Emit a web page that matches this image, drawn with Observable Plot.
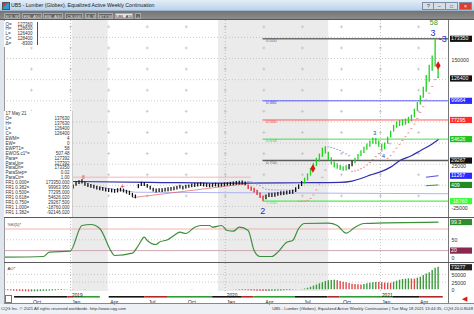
<!DOCTYPE html>
<html><head><meta charset="utf-8">
<script src="https://cdn.jsdelivr.net/npm/d3@7"></script>
<script src="https://cdn.jsdelivr.net/npm/@observablehq/plot@0.6"></script>
<style>
html,body{margin:0;padding:0}
body{width:474px;height:314px;overflow:hidden;position:relative;background:#fff;font-family:"Liberation Sans",Arial,sans-serif}
svg{display:block}
</style></head><body>
<script>
// ---------------- DATA ----------------
// week index 0 = Mon 30 Jul 2018 (weekly bars)
const weekZero = "2018-07-30";
const barStartWeek = 23;
const barLow = [-4.5,-1,1,1.5,-1,-2.5,-3.5,-4.5,-5.5,-6.5,
  -7,-8,-8.5,-9,-9.5,-9,-8,-9,-10.5,-12,
  -14.5,-16,-4,-1.5,-1.5,-3.5,-5.5,-8,-9,-8.5,
  -8.5,-8,-7.5,-7,-6.5,-5.5,-4.5,-5.5,-4.5,-3.5,
  -3,-2.5,-2,-1.5,-2,-2.5,-3,-2.5,-2,-2.5,
  -2,-1.5,-1,-0.8,-0.5,0,0.3,0.5,-0.5,-5,
  -7,-9,-12,-15.5,-18.76,-17,-14.5,-14.5,-14,-13,
  -12.5,-12,-11.5,-11,-10.5,-8.5,-5,-1.5,1.5,5,
  11,16.5,22,27.5,33,37,29,24,20.5,19,
  17.5,16.5,17,18.5,22,25.5,29.5,34,37.5,41.5,
  45,48.5,48,45,41,42,49,56,63,67.5,
  69.5,70,71,73,75,80,87.5,95,103,110,
  122,135,140,126.4];
const barHigh = [0.5,4,5.5,6.5,4,2,1,0,-1,-2,
  -2.5,-3.5,-4,-4.5,-5,-4,-3.5,-4.5,-6,-7,
  -9.5,-11.5,1,3.5,3,1,-1,-3.5,-4.5,-4,
  -4,-3.5,-3,-2.5,-2,-1,0,-1,0,0.5,
  1.5,2,2.5,3,2.5,2,1.5,2,2.5,2,
  2.2,2.8,3,3.5,4,4.5,4.8,5,4,0.5,
  -2,-3.5,-6,-9,-13,-11.5,-9.5,-9.5,-9,-8.5,
  -7.5,-7.5,-7,-6.5,-6,-3,0.5,4.5,8.5,13.5,
  20,26,32,37,44,45.5,39,32.5,27.5,25.5,
  23.5,22,23,24.5,28.5,32,36.5,41,45,49,
  52.5,56,55.5,52.5,48.5,50,57,64,71,75,
  76.5,77.5,78.5,80.5,83,90,98,106,116,130,
  142,153,173.35,137.63];
const barSignalRuns = [["k",59],["r",6],["k",13],["g",15],["k",2],["g",29]];

const fibRatios = ["0.000","0.382","0.500","0.618","0.750","1.000"];
const fibValues = [173.35, 99.964, 77.295, 54.626, 29.2675, -18.76];
const fibStartWeek = 87;

const maPoints = [[23,4.5],[49,3.5],[79,2.5],[100,3],[113,3.5],[117,5],[120,8],[123,12],[127,16.5],[130,21.5],[133,29],[137,35],[140,41],[144,49],[146,54]];
const lavenderPoints = [[32,-2.2],[44,-8.2],[149.5,-10]];
const redTrendPoints = [[43,-14.6],[82,2.1]];
const pinkLevel = {from: 23, to: 83, value: 9.6};
const blueEndPoints = [[142,9.6],[146,11.3]];
const greenEndPoints = [[142,-0.5],[146,0.4]];

const sarStarts = [82, 99, 109, 117, 129];
const sarSides = ["up","dn","up","dn","dn"];
const sarValues = [
  [4.5,4,3,1.5,-0.5,-3,-4.5,-5.2,-5.4,-5.5,-5.6,-5.6,-5.7,-5.7,-5.8,-5.8,-5.8],
  [-18.8,-18.8,-18.5,-17.8,-15.5,-11.5,-5.5,1.5,9.5,18],
  [45.5,44.8,43.8,42.5,41,39.2,37.2,35],
  [16.5,17,18,19.5,21.5,24,27,30.5,34,37.5,40.5],
  [32,35,39.5,44,48.5,53,57.5,62,67,72.5,79,86,93,101,109,117,125,127.4]
];

const waveTexts  = ["2","3","4","→","58","3","-3","8","+"];
const waveWeeks  = [86.9,124.6,127.6,129.5,144.5,144.3,147.6,26.5,39.7];
const waveValues = [-31,61.3,34,50.5,192,180,173,9.2,-1.4];
const diamondWeeks = [103.8, 146];
const diamondValues = [19.8, 141.8];

const mainAxisValues = [173.35,150,126.4,99.964,77.295,54.626,29.2675,25,11.267,0.409,-18.76,-25];
const mainAxisTexts  = ["173350","150000","126400","99964","77295","54626","29267","25000","11267","409","-18760","-25000"];
const gridLevels = [-25,0,25,50,75,100,125,150,175];
const gridMidLevels = [-12.5,12.5,37.5,62.5,87.5,112.5,137.5,162.5,187.5];

const oscPoints = [[0,1.7],[13,3.6],[15,15.6],[22,18.3],[26,89.7],[29,92.5],[32,81.4],[36,15.6],[37,6.4],[43,12.8],[45,34.2],[47,57.2],[48,48.1],[51,36.9],[52,43.3],[55,50.8],[57,61.9],[59,71.1],[61,67.5],[64,85],[66,89.7],[69,89.7],[70,85],[73,89.7],[75,75.8],[77,73.9],[79,85],[82,75.8],[84,20.3],[86,3.6],[90,3.6],[92,15.6],[95,43.3],[97,48.1],[99,81.4],[101,95.3],[109,96.1],[112,89.7],[115,68.3],[118,85],[121,95.3],[146,99.3]];
const oscAxisValues = [99.3,50,20,0];
const oscAxisTexts = ["99.3","50","20","0"];

const aoValues = [-2,-3,-4,-4.5,-5,-5.5,-6,-6.5,-7,
  -6.8,-6.5,-6.2,-5.8,-5.3,-4.8,-4.3,-3.8,-3.2,-2.6,-2,-1.5,-1,
  -0.6,-0.3,0,0.3,0.5,0.6,0.5,0.4,0.3,0.2,
  0.1,-0.1,-0.2,-0.3,-0.2,0.1,0.3,0.4,0.3,0.2,0.1,-0.1,-0.2,-0.1,0.1,0.2,0.3,0.4,0.4,0.3,0.2,0.3,0.4,0.5,0.5,0.4,0.3,0.2,0.3,0.4,0.5,0.6,0.5,0.4,0.3,0.2,0.1,0,-0.1,-0.2,-0.3,-0.2,-0.1,-0.2,-0.3,
  -0.5,-1,-1.5,-2,-2.5,-3,-3.5,-4,-4.5,-5,-5.4,-5.6,
  -5.2,-5,-4.6,-4.2,-3.8,-3.2,-2.6,-2,-1.4,-0.8,-0.2,0.8,
  2.5,5,8.4,12,15.5,19.5,23,27,29,30.2,31,
  29.5,27,24.7,22.7,20.5,18.2,17,16.2,16,
  17.5,19.5,21.5,22.7,24,
  23.5,22.7,22,21.5,21,
  24.7,28,31.2,33.4,34.4,35.7,
  35,34.5,
  37.7,41,46.4,51,55.2,62.7,70.1,73.3];
const aoAxisValues = [73.277,50,25,0];
const aoAxisTexts = ["73277","50000","25000","0"];

const quarterDates = ["2018-10-01","2019-01-01","2019-04-01","2019-07-01","2019-10-01","2020-01-01","2020-04-01","2020-07-01","2020-10-01","2021-01-01","2021-04-01"];
const quarterLabels = ["Oct","Jan","Apr","Jul","Oct","Jan","Apr","Jul","Oct","Jan","Apr"];
const yearDates = ["2019-01-01","2020-01-01","2021-01-01"];
const yearLabels = ["2019","2020","2021"];
const shadeBands = [["2019-01-05","2019-03-31"],["2019-12-16","2020-09-01"]];
const stripWeeks = [[3,21],[21,23],[23,32],[35,47],[47,55],[55,70],[70,80],[80,84],[84,98],[98,109],[109,113],[113,131],[131,140],[140,148]];
const stripKinds = ["k","r","g","k","r","g","k","r","g","k","r","g","k","r"];

const infoRows = [["17 May 21",""],["O=","137630"],["H=","137630"],["L=","126400"],["C=","126400"],["EWM=","4"],["EW=","0"],["EWPT1=","58"],["EWOS.c1*=","507.48"],["Para=","127392"],["ParaUp=","127392"],["ParaDn=","173350"],["ParaStep=","0.02"],["ParaCtr=","1.00"],["FR1 0.000=","173350.000"],["FR1 0.382=","99963.950"],["FR1 0.500=","77295.000"],["FR1 0.618=","54626.020"],["FR1 0.750=","29267.500"],["FR1 1.000=","-18760.000"],["FR1 1.382=","-92146.020"]];
const quoteRows = [["O=","127360"],["H=","128600"],["L=","126400"],["C=","128400"],["Δ=","-8300"]];
const tabNames = ["SOL.W","ENL.A50","ENL.A30","CS.000","UL.W","STY.W","UBL.A50","+"];
const titleText = "UB5 - Lumber (Globex), Equalized Active Weekly Continuation";
const footerLeft = "CQG Inc. © 2021 All rights reserved worldwide. http://www.cqg.com";
const footerRight = "UB5 - Lumber (Globex), Equalized Active Weekly Continuation | Tue May 18 2021 13:44:35, CQG 20.0.8048";

// ---------------- STYLES ----------------
const FONT = "Liberation Sans, Arial, sans-serif";
const signalColor = {k:"#111111", r:"#e02020", g:"#1ed21e"};
const stripColor = {k:"#151515", r:"#b02828", g:"#2f9a2f"};
const fibColors = ["#707070","#3535ff","#ff3535","#3ad43a","#5c5c5c","#4cf04c"];
const fibWidths = [1.6,0.8,0.8,0.9,1.6,1.2];
const waveColors = ["#2a2acc","#3a3acc","#3a3acc","#2a2acc","#3c9c3c","#2a2ad0","#2a2ad0","#e04a4a","#e02020"];
const waveSizes = [9,6,6,6,7.5,9,9,5,7];
const sarColors = {up:"#9a9ad8", dn:"#f08080"};
const mainAxisBg = ["#111","", "#111","#2b2bff","#ff2b2b","#1cc41c","#111","","#2b2bff","#1e8c1e","#33ff33",""];
const oscAxisBg = ["#2e8b2e","","#8b2850",""];
const aoAxisBg = ["#222","","",""];

// ---------------- HELPERS ----------------
const DAY = 864e5;
const W0 = Date.parse(weekZero);
const wk = w => new Date(W0 + w * 7 * DAY);
const X_DOMAIN = [wk(-0.1), wk(149.5)];
const xScale = {type: "utc", domain: X_DOMAIN, axis: null};
const boxSymbol = {draw(ctx) { ctx.rect(-11, -3.1, 22, 6.2); }};
const dashSymbol = {draw(ctx) { ctx.rect(-1, -0.45, 2, 0.9); }};

function el(tag, css, html, parent) {
  const e = document.createElement(tag);
  e.style.cssText = css;
  if (html != null) e.innerHTML = html;
  (parent || document.body).appendChild(e);
  return e;
}
function place(svg, left, top, z) {
  const d = el("div", `position:absolute;left:${left}px;top:${top}px;z-index:${z||1}`);
  d.appendChild(svg);
}
function axisMarks(values, texts, bgs, fs, plainDy) {
  const rows = values.map((v, i) => ({v, t: texts[i], bg: bgs[i]}));
  const plain = rows.filter(d => !d.bg), boxed = rows.filter(d => d.bg);
  return [
    Plot.text(plain, {y: "v", text: "t", frameAnchor: "right", dx: 3, dy: plainDy, textAnchor: "start", fill: "#333", fontSize: fs}),
    Plot.dot(boxed, {y: "v", frameAnchor: "right", dx: 12.5, symbol: boxSymbol, r: 3, fill: "bg"}),
    Plot.text(boxed, {y: "v", text: "t", frameAnchor: "right", dx: 2.5, textAnchor: "start", fill: "#ffffff", fontSize: fs})
  ];
}
const shadeMark = () => Plot.rect(shadeBands, {x1: d => new Date(d[0]), x2: d => new Date(d[1]), fill: "#ebebeb"});
const janMark = () => Plot.ruleX(yearDates.map(d => new Date(d)), {stroke: "#aaaaaa", strokeWidth: 0.7, strokeDasharray: "1,2"});
const baseOpts = (h, domain) => ({
  width: 470, height: h, margin: 0, marginRight: 26,
  x: xScale, y: {domain, axis: null}, color: {type: "identity"},
  style: {background: "transparent", overflow: "visible", fontFamily: FONT}
});

// ---------------- FRAME / CHROME ----------------
el("div", "position:absolute;left:0;top:0;width:474px;height:11px;background:linear-gradient(#e3edf8,#bcd2ea);border-bottom:1px solid #9fb6cf;box-sizing:border-box");
el("div", "position:absolute;left:2px;top:2px;width:6px;height:6px;background:linear-gradient(135deg,#d33 0,#d33 40%,#39c 40%);border:0.5px solid #555");
el("div", `position:absolute;left:11px;top:0;height:10px;line-height:10px;font-size:5.2px;color:#1a1a1a;white-space:nowrap`, titleText);
[[422,"#d8dde4","?"],[433,"#d8dde4","–"],[445,"#d8dde4","□"],[459,"#d84030","×"]].forEach(([x,c,t]) =>
  el("div", `position:absolute;left:${x}px;top:2px;width:11px;height:6px;background:${c};border:0.5px solid #7a8ea6;font-size:5px;line-height:6px;text-align:center;color:${c==="#d84030"?"#fff":"#333"}`, t));
el("div", "position:absolute;left:0;top:11px;width:474px;height:9px;background:linear-gradient(#747474,#8c8c8c);border-bottom:1px solid #555;box-sizing:border-box");
const tabX = [[4,20],[22,42],[43,63],[65,83],[85,96],[98,113],[115,133],[135,141]];
tabNames.forEach((t, i) => {
  const sel = t === "UBL.A50";
  el("div", `position:absolute;left:${tabX[i][0]}px;top:12.5px;width:${tabX[i][1]-tabX[i][0]}px;height:6px;background:${sel?"#e6e6e6":"#666"};border:0.5px solid #a8a8a8;box-sizing:border-box;font-size:4.3px;line-height:5.5px;text-align:center;color:${sel?"#222":"#e8e8e8"};white-space:nowrap;overflow:hidden`, t);
});

// ---------------- MAIN PRICE PANEL ----------------
const barSignals = barSignalRuns.flatMap(([c, n]) => Array(n).fill(c));
const bars = barLow.map((lo, i) => ({date: wk(barStartWeek + i), lo, hi: barHigh[i], c: signalColor[barSignals[i]]}));
const fibs = fibValues.map((v, i) => ({v, r: fibRatios[i], c: fibColors[i], sw: fibWidths[i]}));
const sarDots = sarValues.flatMap((vals, s) => vals.map((v, j) => ({date: wk(sarStarts[s] + j), v, c: sarColors[sarSides[s]]})));
const waves = waveTexts.map((t, i) => ({t, date: wk(waveWeeks[i]), v: waveValues[i], c: waveColors[i], fs: waveSizes[i]}));
const diamonds = diamondWeeks.map((w, i) => ({date: wk(w), v: diamondValues[i]}));
const plusGrid = quarterDates.flatMap(d => gridMidLevels.map(v => ({date: new Date(d), v})));
const P = d => wk(d[0]);

const mainPlot = Plot.plot({
  ...baseOpts(197, [-38.1, 195]),
  marks: [
    shadeMark(),
    Plot.ruleY(gridLevels, {stroke: "#b4b4b4", strokeWidth: 0.7, strokeDasharray: "1,2"}),
    janMark(),
    Plot.dot(plusGrid, {x: "date", y: "v", symbol: "plus", r: 1.1, stroke: "#b8b8b8", strokeWidth: 0.6}),
    Plot.ruleY([pinkLevel], {y: "value", x1: d => wk(d.from), x2: d => wk(d.to), stroke: "#f3a7a7", strokeWidth: 0.8}),
    Plot.line(lavenderPoints, {x: P, y: d => d[1], stroke: "#a9a9ee", strokeWidth: 0.9}),
    Plot.line(redTrendPoints, {x: P, y: d => d[1], stroke: "#e06060", strokeWidth: 0.7}),
    Plot.ruleY(fibs, {y: "v", x1: () => wk(fibStartWeek), x2: () => X_DOMAIN[1], stroke: "c", strokeWidth: "sw"}),
    Plot.text(fibs, {y: "v", x: () => wk(fibStartWeek + 1), text: "r", fill: "c", dy: 1.6, textAnchor: "start", fontSize: 4.3}),
    Plot.line(maPoints, {x: P, y: d => d[1], stroke: "#2f2fae", strokeWidth: 1.2, curve: "monotone-x"}),
    Plot.dot(sarDots, {x: "date", y: "v", symbol: dashSymbol, r: 1, fill: "c"}),
    Plot.ruleX(bars, {x: "date", y1: "lo", y2: "hi", stroke: "c", strokeWidth: 1.3}),
    Plot.line(blueEndPoints, {x: P, y: d => d[1], stroke: "#3b3bd8", strokeWidth: 0.9}),
    Plot.line(greenEndPoints, {x: P, y: d => d[1], stroke: "#2a8a2a", strokeWidth: 0.9}),
    Plot.dot(diamonds, {x: "date", y: "v", symbol: "diamond", r: 2.6, fill: "#e31414"}),
    Plot.text(waves, {x: "date", y: "v", text: "t", fill: "c", fontSize: "fs"}),
    ...axisMarks(mainAxisValues, mainAxisTexts, mainAxisBg, 5.2, 2.2)
  ]
});
place(mainPlot, 4, 20);

// ---------------- OSCILLATOR PANEL ----------------
const oscPlot = Plot.plot({
  ...baseOpts(44, [-13.1, 109.2]),
  marks: [
    shadeMark(), janMark(),
    Plot.ruleY([50], {stroke: "#b4b4b4", strokeWidth: 0.7, strokeDasharray: "1,2"}),
    Plot.ruleY([80], {stroke: "#f2a8a8", strokeWidth: 0.9}),
    Plot.ruleY([20], {stroke: "#c8a0aa", strokeWidth: 0.9}),
    Plot.line(oscPoints, {x: P, y: d => d[1], stroke: "#3e8e3e", strokeWidth: 1.2, curve: "monotone-x"}),
    Plot.text(["%K(5)*"], {text: d => d, frameAnchor: "top-left", dx: 3, dy: 4, textAnchor: "start", fontSize: 4.3, fill: "#333"}),
    ...axisMarks(oscAxisValues, oscAxisTexts, oscAxisBg, 5.2, 0.8)
  ]
});
place(oscPlot, 4, 218);

// ---------------- AO HISTOGRAM PANEL ----------------
const aoBars = aoValues.map((v, w) => ({date: wk(w), v, c: (w > 0 && v > aoValues[w - 1]) ? "#3a9a3a" : "#e04848"}));
const aoPlot = Plot.plot({
  ...baseOpts(28, [-5.5, 85.4]),
  marks: [
    shadeMark(), janMark(),
    Plot.ruleY([25, 50], {stroke: "#b4b4b4", strokeWidth: 0.7, strokeDasharray: "1,2"}),
    Plot.ruleX(aoBars, {x: "date", y1: 0, y2: "v", stroke: "c", strokeWidth: 1.4}),
    Plot.text(["AO*"], {text: d => d, frameAnchor: "top-left", dx: 3, dy: 3.5, textAnchor: "start", fontSize: 4.3, fill: "#333"}),
    ...axisMarks(aoAxisValues, aoAxisTexts, aoAxisBg, 5.2, 0.8)
  ]
});
place(aoPlot, 4, 263);

// ---------------- DATE AXIS ----------------
const strip = stripWeeks.map((s, i) => ({a: wk(s[0]), b: wk(s[1]), c: stripColor[stripKinds[i]]}));
const stripPlot = Plot.plot({
  ...baseOpts(1.6, [0, 1]),
  marks: [Plot.rect(strip, {x1: "a", x2: "b", fill: "c"})]
});
place(stripPlot, 4, 296);
const axisPlot = Plot.plot({
  ...baseOpts(12, [0, 1]),
  marks: [
    Plot.text(quarterDates.map((d, i) => ({date: new Date(d), t: quarterLabels[i]})), {x: "date", text: "t", frameAnchor: "top", dy: 9.2, dx: 1.5, textAnchor: "start", fontSize: 5.2, fill: "#222"}),
    Plot.text(yearDates.map((d, i) => ({date: new Date(d), t: yearLabels[i]})), {x: "date", text: "t", frameAnchor: "top", dy: 2.4, dx: 1.5, textAnchor: "start", fontSize: 4.8, fill: "#222"})
  ]
});
place(axisPlot, 4, 291, 2);

// ---------------- BORDERS / SEPARATORS ----------------
el("div", "position:absolute;left:0;top:20px;width:3.5px;height:284px;background:#dfe6ee;z-index:3");
el("div", "position:absolute;left:3.5px;top:20px;width:0.8px;height:283px;background:#999;z-index:3");
el("div", "position:absolute;left:448px;top:20px;width:0.9px;height:283px;background:#777;z-index:3");
el("div", "position:absolute;left:4px;top:216.5px;width:470px;height:1.6px;background:#5a5a5a;z-index:3");
el("div", "position:absolute;left:4px;top:261.6px;width:470px;height:1.6px;background:#5a5a5a;z-index:3");
el("div", "position:absolute;left:4px;top:302.5px;width:470px;height:0.8px;background:#888;z-index:3");
el("div", "position:absolute;left:5px;top:295px;width:5px;height:6px;background:#fff;border:0.6px solid #777;z-index:4");
el("div", "position:absolute;left:462px;top:295px;font-size:7px;line-height:7px;color:#e01818;z-index:4", "◀");

// ---------------- DATA WINDOWS ----------------
const info = el("div", "position:absolute;left:4px;top:111px;width:68px;height:105.5px;background:#fff;border-right:0.5px solid #ccc;z-index:5;overflow:hidden");
infoRows.forEach(([k, v], i) => {
  el("div", `position:absolute;left:1.5px;top:${i*4.95}px;width:64px;height:5px;font-size:4.5px;line-height:5px;color:#333;white-space:nowrap`, `<span>${k}</span><span style="position:absolute;right:0">${v}</span>`, info);
});
const quote = el("div", "position:absolute;left:4px;top:20.5px;width:31px;height:26px;background:#fff;z-index:5");
quoteRows.forEach(([k, v], i) => {
  el("div", `position:absolute;left:1.5px;top:${1+i*4.9}px;width:27px;height:5px;font-size:4.5px;line-height:5px;color:#333;white-space:nowrap`, `<span>${k}</span><span style="position:absolute;right:0">${v}</span>`, quote);
});
el("div", "position:absolute;left:32.5px;top:1px;width:1.6px;height:23.5px;background:#c02020", null, quote);

// ---------------- FOOTER ----------------
el("div", "position:absolute;left:0;top:303.3px;width:474px;height:10.7px;background:#edf1f5;border-top:0.8px solid #a9bccf;box-sizing:border-box");
el("div", "position:absolute;left:1px;top:305px;font-size:4.2px;line-height:7px;color:#333;white-space:nowrap", footerLeft);
el("div", "position:absolute;right:1px;top:305px;font-size:4.2px;line-height:7px;color:#333;white-space:nowrap", footerRight);
</script>
</body></html>
